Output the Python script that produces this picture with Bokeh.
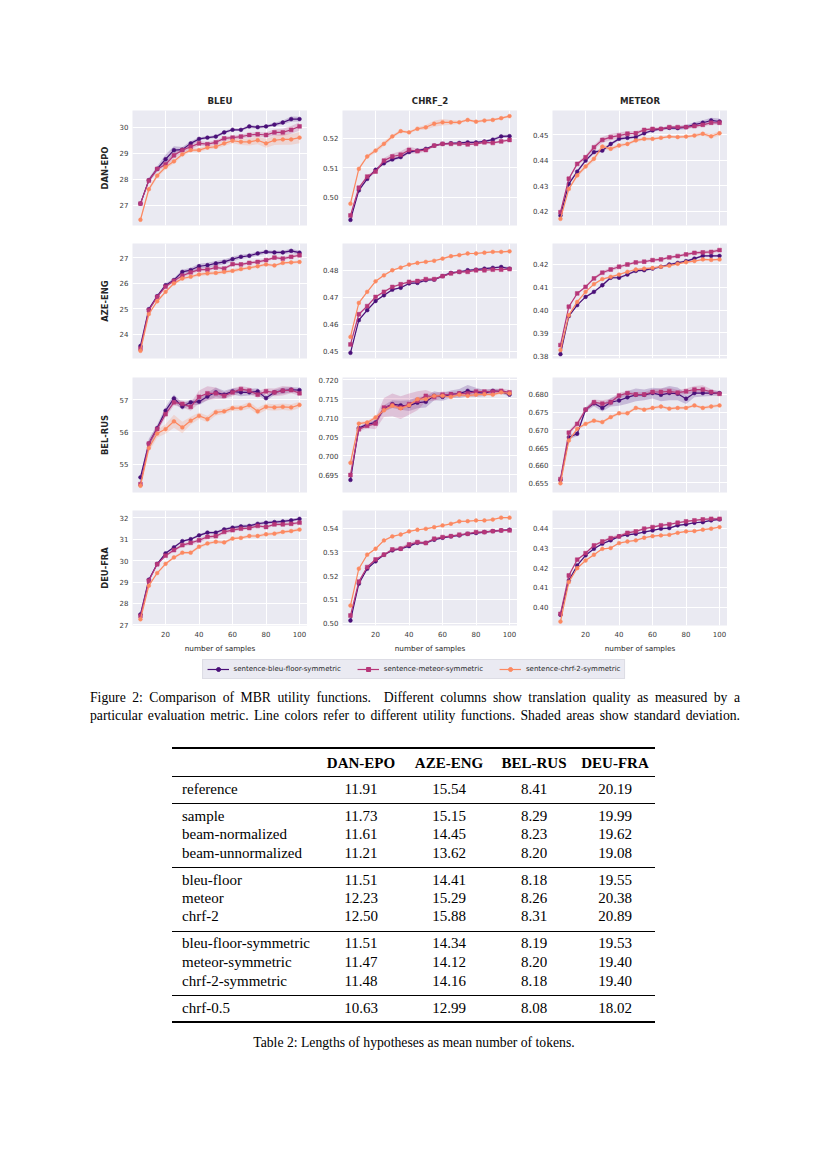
import numpy as np
from bokeh.plotting import figure
from bokeh.layouts import column, row
from bokeh.models import (ColumnDataSource, Range1d, FixedTicker, NumeralTickFormatter,
                          Legend, LegendItem, Div, Spacer)
from bokeh.embed import file_html
from bokeh.resources import INLINE

# ------------------------------------------------------------------ data
x_samples = [5, 10, 15, 20, 25, 30, 35, 40, 45, 50, 55, 60, 65, 70, 75, 80, 85, 90, 95, 100]
languages = ["DAN-EPO", "AZE-ENG", "BEL-RUS", "DEU-FRA"]
metrics = ["BLEU", "CHRF_2", "METEOR"]
utilities = ["sentence-bleu-floor-symmetric", "sentence-meteor-symmetric", "sentence-chrf-2-symmetric"]

# DAN-EPO
danepo_bleu_bf = [27.07, 27.97, 28.40, 28.77, 29.12, 29.14, 29.38, 29.55, 29.60, 29.64, 29.80, 29.90, 29.90, 30.03, 30.00, 30.03, 30.10, 30.18, 30.31, 30.31]
danepo_bleu_me = [27.07, 27.95, 28.40, 28.57, 28.92, 29.12, 29.25, 29.38, 29.35, 29.42, 29.57, 29.60, 29.64, 29.70, 29.73, 29.70, 29.80, 29.80, 29.90, 30.03]
danepo_bleu_ch = [26.45, 27.62, 28.14, 28.47, 28.69, 28.96, 29.12, 29.12, 29.22, 29.25, 29.38, 29.48, 29.44, 29.44, 29.50, 29.38, 29.50, 29.53, 29.53, 29.60]
danepo_bleu_bf_sd = [0.05, 0.08, 0.10, 0.18, 0.15, 0.10, 0.08, 0.06, 0.05, 0.05, 0.06, 0.05, 0.05, 0.06, 0.05, 0.05, 0.07, 0.08, 0.10, 0.09]
danepo_bleu_me_sd = [0.05, 0.08, 0.08, 0.10, 0.12, 0.10, 0.10, 0.09, 0.08, 0.08, 0.07, 0.07, 0.08, 0.08, 0.09, 0.10, 0.12, 0.14, 0.15, 0.16]
danepo_bleu_ch_sd = [0.06, 0.08, 0.08, 0.08, 0.08, 0.07, 0.07, 0.08, 0.08, 0.08, 0.10, 0.10, 0.12, 0.14, 0.15, 0.17, 0.18, 0.20, 0.20, 0.22]

danepo_chrf_bf = [0.4923, 0.5023, 0.5062, 0.5093, 0.5115, 0.5128, 0.5136, 0.5153, 0.5158, 0.5164, 0.5175, 0.5181, 0.5183, 0.5184, 0.5186, 0.5186, 0.5189, 0.5195, 0.5206, 0.5207]
danepo_chrf_me = [0.4938, 0.5032, 0.5070, 0.5087, 0.5124, 0.5138, 0.5144, 0.5160, 0.5156, 0.5160, 0.5175, 0.5181, 0.5181, 0.5181, 0.5179, 0.5181, 0.5186, 0.5184, 0.5189, 0.5194]
danepo_chrf_ch = [0.4978, 0.5096, 0.5138, 0.5158, 0.5181, 0.5206, 0.5224, 0.5220, 0.5232, 0.5237, 0.5249, 0.5254, 0.5254, 0.5254, 0.5262, 0.5256, 0.5260, 0.5262, 0.5268, 0.5275]
danepo_chrf_bf_sd = [0.0003, 0.0004, 0.0004, 0.0004, 0.0004, 0.0005, 0.0005, 0.0004, 0.0004, 0.0004, 0.0003, 0.0003, 0.0003, 0.0004, 0.0004, 0.0004, 0.0004, 0.0005, 0.0005, 0.0005]
danepo_chrf_me_sd = [0.0004, 0.0004, 0.0005, 0.0006, 0.0009, 0.0010, 0.0012, 0.0012, 0.0008, 0.0006, 0.0004, 0.0004, 0.0003, 0.0003, 0.0003, 0.0003, 0.0003, 0.0003, 0.0004, 0.0004]
danepo_chrf_ch_sd = [0.0004, 0.0005, 0.0005, 0.0007, 0.0008, 0.0006, 0.0005, 0.0004, 0.0005, 0.0008, 0.0010, 0.0011, 0.0008, 0.0005, 0.0004, 0.0004, 0.0004, 0.0004, 0.0004, 0.0004]

danepo_meteor_bf = [0.4183, 0.4307, 0.4355, 0.4398, 0.4431, 0.4437, 0.4463, 0.4483, 0.4487, 0.4490, 0.4505, 0.4516, 0.4522, 0.4526, 0.4525, 0.4529, 0.4539, 0.4546, 0.4555, 0.4551]
danepo_meteor_me = [0.4196, 0.4327, 0.4385, 0.4411, 0.4450, 0.4479, 0.4490, 0.4496, 0.4503, 0.4505, 0.4518, 0.4522, 0.4522, 0.4529, 0.4529, 0.4529, 0.4533, 0.4538, 0.4546, 0.4546]
danepo_meteor_ch = [0.4170, 0.4287, 0.4340, 0.4375, 0.4405, 0.4453, 0.4444, 0.4457, 0.4463, 0.4477, 0.4483, 0.4483, 0.4487, 0.4492, 0.4490, 0.4492, 0.4496, 0.4503, 0.4493, 0.4505]
danepo_meteor_bf_sd = [0.0005, 0.0005, 0.0006, 0.0006, 0.0006, 0.0006, 0.0006, 0.0005, 0.0005, 0.0005, 0.0005, 0.0005, 0.0005, 0.0006, 0.0007, 0.0008, 0.0009, 0.0010, 0.0011, 0.0012]
danepo_meteor_me_sd = [0.0005, 0.0006, 0.0006, 0.0008, 0.0009, 0.0011, 0.0012, 0.0012, 0.0010, 0.0008, 0.0006, 0.0005, 0.0005, 0.0005, 0.0005, 0.0006, 0.0007, 0.0008, 0.0008, 0.0008]
danepo_meteor_ch_sd = [0.0005, 0.0006, 0.0007, 0.0009, 0.0010, 0.0009, 0.0008, 0.0007, 0.0006, 0.0006, 0.0006, 0.0005, 0.0005, 0.0005, 0.0005, 0.0006, 0.0006, 0.0007, 0.0008, 0.0009]

# AZE-ENG
azeeng_bleu_bf = [23.55, 24.99, 25.50, 25.93, 26.13, 26.45, 26.52, 26.67, 26.71, 26.78, 26.84, 26.95, 27.04, 27.08, 27.17, 27.23, 27.21, 27.21, 27.27, 27.20]
azeeng_bleu_me = [23.45, 24.95, 25.47, 25.87, 26.10, 26.30, 26.43, 26.54, 26.54, 26.62, 26.58, 26.75, 26.74, 26.80, 26.84, 26.91, 27.01, 26.97, 27.04, 27.10]
azeeng_bleu_ch = [23.36, 24.80, 25.30, 25.67, 26.00, 26.19, 26.26, 26.35, 26.39, 26.41, 26.45, 26.49, 26.56, 26.61, 26.67, 26.74, 26.70, 26.80, 26.82, 26.84]
azeeng_bleu_bf_sd = [0.05, 0.05, 0.05, 0.06, 0.07, 0.08, 0.09, 0.10, 0.10, 0.10, 0.09, 0.09, 0.08, 0.08, 0.08, 0.07, 0.07, 0.07, 0.08, 0.08]
azeeng_bleu_me_sd = [0.05, 0.05, 0.05, 0.05, 0.06, 0.06, 0.07, 0.07, 0.07, 0.06, 0.06, 0.06, 0.06, 0.06, 0.06, 0.06, 0.06, 0.06, 0.07, 0.07]
azeeng_bleu_ch_sd = [0.05, 0.05, 0.05, 0.05, 0.06, 0.06, 0.06, 0.07, 0.07, 0.07, 0.07, 0.07, 0.07, 0.06, 0.06, 0.06, 0.05, 0.05, 0.05, 0.05]

azeeng_chrf_bf = [0.4494, 0.4615, 0.4652, 0.4686, 0.4707, 0.4728, 0.4735, 0.4751, 0.4753, 0.4763, 0.4765, 0.4778, 0.4790, 0.4794, 0.4800, 0.4802, 0.4806, 0.4809, 0.4812, 0.4806]
azeeng_chrf_me = [0.4525, 0.4637, 0.4667, 0.4701, 0.4720, 0.4738, 0.4748, 0.4757, 0.4760, 0.4767, 0.4767, 0.4778, 0.4788, 0.4794, 0.4794, 0.4800, 0.4800, 0.4802, 0.4802, 0.4804]
azeeng_chrf_ch = [0.4553, 0.4679, 0.4720, 0.4759, 0.4781, 0.4800, 0.4810, 0.4821, 0.4827, 0.4831, 0.4835, 0.4843, 0.4852, 0.4856, 0.4862, 0.4862, 0.4865, 0.4868, 0.4868, 0.4870]
azeeng_chrf_bf_sd = [0.0003, 0.0003, 0.0003, 0.0003, 0.0003, 0.0003, 0.0003, 0.0003, 0.0004, 0.0004, 0.0004, 0.0004, 0.0004, 0.0004, 0.0004, 0.0004, 0.0004, 0.0004, 0.0005, 0.0005]
azeeng_chrf_me_sd = [0.0003, 0.0003, 0.0003, 0.0003, 0.0003, 0.0004, 0.0004, 0.0004, 0.0004, 0.0003, 0.0003, 0.0003, 0.0003, 0.0003, 0.0003, 0.0003, 0.0003, 0.0003, 0.0003, 0.0003]
azeeng_chrf_ch_sd = [0.0002, 0.0003, 0.0003, 0.0003, 0.0003, 0.0003, 0.0003, 0.0003, 0.0003, 0.0003, 0.0003, 0.0003, 0.0003, 0.0003, 0.0003, 0.0003, 0.0003, 0.0003, 0.0003, 0.0003]

azeeng_meteor_bf = [0.3807, 0.3974, 0.4022, 0.4058, 0.4080, 0.4109, 0.4142, 0.4142, 0.4156, 0.4172, 0.4175, 0.4182, 0.4190, 0.4200, 0.4207, 0.4215, 0.4226, 0.4238, 0.4238, 0.4238]
azeeng_meteor_me = [0.3847, 0.4015, 0.4073, 0.4102, 0.4139, 0.4164, 0.4178, 0.4190, 0.4200, 0.4209, 0.4212, 0.4219, 0.4222, 0.4231, 0.4237, 0.4244, 0.4251, 0.4253, 0.4255, 0.4263]
azeeng_meteor_ch = [0.3825, 0.3978, 0.4036, 0.4080, 0.4114, 0.4136, 0.4146, 0.4156, 0.4168, 0.4178, 0.4182, 0.4185, 0.4190, 0.4195, 0.4203, 0.4210, 0.4215, 0.4222, 0.4220, 0.4222]
azeeng_meteor_bf_sd = [0.0004, 0.0004, 0.0004, 0.0004, 0.0005, 0.0005, 0.0005, 0.0005, 0.0005, 0.0005, 0.0005, 0.0005, 0.0005, 0.0005, 0.0005, 0.0005, 0.0005, 0.0005, 0.0005, 0.0005]
azeeng_meteor_me_sd = [0.0004, 0.0004, 0.0004, 0.0005, 0.0006, 0.0007, 0.0008, 0.0008, 0.0007, 0.0006, 0.0006, 0.0006, 0.0006, 0.0006, 0.0006, 0.0006, 0.0007, 0.0007, 0.0007, 0.0007]
azeeng_meteor_ch_sd = [0.0004, 0.0004, 0.0004, 0.0004, 0.0004, 0.0004, 0.0004, 0.0004, 0.0004, 0.0004, 0.0004, 0.0004, 0.0004, 0.0004, 0.0004, 0.0004, 0.0004, 0.0004, 0.0004, 0.0004]

# BEL-RUS
belrus_bleu_bf = [54.59, 55.64, 56.12, 56.66, 57.04, 56.79, 56.92, 56.94, 57.10, 57.23, 57.16, 57.26, 57.23, 57.23, 57.26, 57.05, 57.23, 57.28, 57.31, 57.30]
belrus_bleu_me = [54.38, 55.64, 56.09, 56.55, 56.92, 56.87, 56.78, 57.09, 57.20, 57.20, 57.12, 57.23, 57.33, 57.28, 57.16, 57.26, 57.23, 57.28, 57.30, 57.20]
belrus_bleu_ch = [54.33, 55.50, 55.95, 56.09, 56.33, 56.14, 56.35, 56.50, 56.40, 56.61, 56.64, 56.74, 56.74, 56.83, 56.64, 56.78, 56.76, 56.78, 56.76, 56.84]
belrus_bleu_bf_sd = [0.08, 0.15, 0.10, 0.12, 0.12, 0.10, 0.08, 0.10, 0.12, 0.15, 0.12, 0.10, 0.12, 0.10, 0.10, 0.08, 0.08, 0.10, 0.08, 0.08]
belrus_bleu_me_sd = [0.08, 0.10, 0.10, 0.10, 0.10, 0.10, 0.12, 0.20, 0.22, 0.18, 0.10, 0.12, 0.10, 0.10, 0.10, 0.10, 0.12, 0.15, 0.10, 0.08]
belrus_bleu_ch_sd = [0.10, 0.12, 0.12, 0.15, 0.20, 0.18, 0.12, 0.10, 0.10, 0.10, 0.08, 0.08, 0.08, 0.10, 0.10, 0.10, 0.10, 0.10, 0.10, 0.10]

belrus_chrf_bf = [0.6937, 0.7073, 0.7083, 0.7088, 0.7125, 0.7136, 0.7133, 0.7132, 0.7140, 0.7142, 0.7158, 0.7155, 0.7162, 0.7164, 0.7171, 0.7167, 0.7165, 0.7171, 0.7169, 0.7161]
belrus_chrf_me = [0.6950, 0.7070, 0.7079, 0.7085, 0.7127, 0.7134, 0.7127, 0.7136, 0.7145, 0.7158, 0.7155, 0.7161, 0.7162, 0.7164, 0.7164, 0.7169, 0.7169, 0.7169, 0.7171, 0.7167]
belrus_chrf_ch = [0.6982, 0.7085, 0.7088, 0.7101, 0.7120, 0.7132, 0.7125, 0.7133, 0.7149, 0.7149, 0.7158, 0.7158, 0.7155, 0.7161, 0.7158, 0.7161, 0.7162, 0.7161, 0.7167, 0.7164]
belrus_chrf_bf_sd = [0.0006, 0.0005, 0.0005, 0.0006, 0.0008, 0.0010, 0.0012, 0.0014, 0.0015, 0.0015, 0.0012, 0.0010, 0.0010, 0.0012, 0.0015, 0.0012, 0.0008, 0.0006, 0.0006, 0.0005]
belrus_chrf_me_sd = [0.0008, 0.0006, 0.0006, 0.0015, 0.0025, 0.0030, 0.0030, 0.0028, 0.0025, 0.0015, 0.0010, 0.0008, 0.0006, 0.0006, 0.0006, 0.0006, 0.0006, 0.0006, 0.0006, 0.0006]
belrus_chrf_ch_sd = [0.0005, 0.0004, 0.0004, 0.0005, 0.0005, 0.0005, 0.0005, 0.0005, 0.0005, 0.0005, 0.0004, 0.0004, 0.0004, 0.0004, 0.0004, 0.0004, 0.0004, 0.0004, 0.0004, 0.0004]

belrus_meteor_bf = [0.6558, 0.6679, 0.6689, 0.6757, 0.6775, 0.6762, 0.6778, 0.6783, 0.6792, 0.6799, 0.6799, 0.6804, 0.6799, 0.6804, 0.6802, 0.6788, 0.6804, 0.6804, 0.6804, 0.6804]
belrus_meteor_me = [0.6561, 0.6692, 0.6717, 0.6757, 0.6778, 0.6774, 0.6778, 0.6797, 0.6804, 0.6800, 0.6800, 0.6807, 0.6807, 0.6809, 0.6805, 0.6809, 0.6814, 0.6814, 0.6807, 0.6802]
belrus_meteor_ch = [0.6549, 0.6670, 0.6703, 0.6717, 0.6726, 0.6722, 0.6736, 0.6747, 0.6747, 0.6762, 0.6757, 0.6762, 0.6766, 0.6760, 0.6762, 0.6762, 0.6769, 0.6762, 0.6766, 0.6769]
belrus_meteor_bf_sd = [0.0005, 0.0006, 0.0006, 0.0006, 0.0008, 0.0010, 0.0012, 0.0015, 0.0018, 0.0018, 0.0015, 0.0015, 0.0018, 0.0020, 0.0018, 0.0015, 0.0012, 0.0010, 0.0008, 0.0006]
belrus_meteor_me_sd = [0.0005, 0.0006, 0.0006, 0.0006, 0.0008, 0.0010, 0.0010, 0.0008, 0.0006, 0.0006, 0.0006, 0.0008, 0.0010, 0.0010, 0.0008, 0.0008, 0.0010, 0.0012, 0.0008, 0.0006]
belrus_meteor_ch_sd = [0.0004, 0.0004, 0.0004, 0.0004, 0.0004, 0.0004, 0.0004, 0.0004, 0.0004, 0.0004, 0.0004, 0.0004, 0.0004, 0.0004, 0.0004, 0.0004, 0.0004, 0.0004, 0.0004, 0.0004]

# DEU-FRA
deufra_bleu_bf = [27.49, 29.11, 29.85, 30.34, 30.62, 30.91, 31.00, 31.18, 31.31, 31.31, 31.46, 31.54, 31.60, 31.62, 31.72, 31.77, 31.80, 31.83, 31.88, 31.95]
deufra_bleu_me = [27.42, 29.06, 29.83, 30.23, 30.49, 30.72, 30.83, 30.95, 31.11, 31.14, 31.34, 31.42, 31.49, 31.52, 31.62, 31.57, 31.69, 31.69, 31.72, 31.77]
deufra_bleu_ch = [27.26, 28.83, 29.42, 29.85, 30.15, 30.37, 30.37, 30.65, 30.80, 30.88, 30.85, 31.03, 31.06, 31.15, 31.15, 31.23, 31.26, 31.34, 31.38, 31.45]
deufra_bleu_bf_sd = [0.04, 0.04, 0.04, 0.05, 0.05, 0.05, 0.05, 0.06, 0.06, 0.06, 0.06, 0.06, 0.07, 0.07, 0.07, 0.07, 0.07, 0.07, 0.07, 0.07]
deufra_bleu_me_sd = [0.04, 0.04, 0.05, 0.06, 0.07, 0.08, 0.09, 0.10, 0.10, 0.09, 0.08, 0.08, 0.07, 0.07, 0.07, 0.07, 0.07, 0.07, 0.07, 0.07]
deufra_bleu_ch_sd = [0.04, 0.04, 0.05, 0.05, 0.06, 0.06, 0.06, 0.07, 0.07, 0.07, 0.07, 0.07, 0.07, 0.07, 0.07, 0.07, 0.07, 0.07, 0.07, 0.07]

deufra_chrf_bf = [0.5011, 0.5166, 0.5229, 0.5260, 0.5288, 0.5306, 0.5313, 0.5324, 0.5338, 0.5338, 0.5351, 0.5359, 0.5365, 0.5369, 0.5376, 0.5379, 0.5383, 0.5387, 0.5390, 0.5393]
deufra_chrf_me = [0.5032, 0.5175, 0.5236, 0.5268, 0.5288, 0.5310, 0.5313, 0.5331, 0.5341, 0.5337, 0.5355, 0.5362, 0.5366, 0.5372, 0.5376, 0.5383, 0.5383, 0.5387, 0.5390, 0.5390]
deufra_chrf_ch = [0.5074, 0.5229, 0.5288, 0.5313, 0.5348, 0.5365, 0.5373, 0.5386, 0.5393, 0.5397, 0.5404, 0.5411, 0.5418, 0.5428, 0.5429, 0.5432, 0.5432, 0.5436, 0.5444, 0.5444]
deufra_chrf_bf_sd = [0.0003, 0.0003, 0.0003, 0.0003, 0.0003, 0.0003, 0.0003, 0.0004, 0.0004, 0.0004, 0.0004, 0.0004, 0.0004, 0.0004, 0.0004, 0.0004, 0.0004, 0.0004, 0.0004, 0.0004]
deufra_chrf_me_sd = [0.0003, 0.0003, 0.0003, 0.0004, 0.0005, 0.0006, 0.0007, 0.0008, 0.0008, 0.0006, 0.0005, 0.0005, 0.0005, 0.0004, 0.0004, 0.0004, 0.0004, 0.0004, 0.0004, 0.0004]
deufra_chrf_ch_sd = [0.0003, 0.0003, 0.0003, 0.0003, 0.0003, 0.0003, 0.0003, 0.0003, 0.0003, 0.0003, 0.0003, 0.0003, 0.0003, 0.0003, 0.0003, 0.0003, 0.0003, 0.0003, 0.0003, 0.0003]

deufra_meteor_bf = [0.3961, 0.4135, 0.4211, 0.4262, 0.4295, 0.4321, 0.4338, 0.4358, 0.4366, 0.4371, 0.4380, 0.4388, 0.4397, 0.4400, 0.4414, 0.4419, 0.4427, 0.4430, 0.4439, 0.4444]
deufra_meteor_me = [0.3966, 0.4160, 0.4240, 0.4273, 0.4312, 0.4332, 0.4349, 0.4358, 0.4376, 0.4383, 0.4397, 0.4405, 0.4414, 0.4419, 0.4427, 0.4434, 0.4439, 0.4444, 0.4447, 0.4447]
deufra_meteor_ch = [0.3927, 0.4127, 0.4197, 0.4236, 0.4265, 0.4295, 0.4299, 0.4324, 0.4332, 0.4338, 0.4351, 0.4359, 0.4363, 0.4366, 0.4376, 0.4383, 0.4385, 0.4392, 0.4397, 0.4405]
deufra_meteor_bf_sd = [0.0004, 0.0004, 0.0004, 0.0004, 0.0004, 0.0004, 0.0004, 0.0004, 0.0004, 0.0004, 0.0004, 0.0004, 0.0004, 0.0004, 0.0004, 0.0004, 0.0004, 0.0004, 0.0004, 0.0004]
deufra_meteor_me_sd = [0.0004, 0.0004, 0.0004, 0.0005, 0.0006, 0.0007, 0.0008, 0.0009, 0.0008, 0.0007, 0.0006, 0.0006, 0.0005, 0.0005, 0.0005, 0.0005, 0.0005, 0.0005, 0.0005, 0.0005]
deufra_meteor_ch_sd = [0.0004, 0.0004, 0.0004, 0.0004, 0.0004, 0.0004, 0.0004, 0.0004, 0.0004, 0.0004, 0.0004, 0.0004, 0.0004, 0.0004, 0.0004, 0.0004, 0.0004, 0.0004, 0.0004, 0.0004]

# y tick labels per panel (row = language, column = metric)
yticks_danepo = [[27, 28, 29, 30], [0.50, 0.51, 0.52], [0.42, 0.43, 0.44, 0.45]]
yticks_azeeng = [[24, 25, 26, 27], [0.45, 0.46, 0.47, 0.48], [0.38, 0.39, 0.40, 0.41, 0.42]]
yticks_belrus = [[55, 56, 57], [0.690, 0.695, 0.700, 0.705, 0.710, 0.715, 0.720],
                 [0.655, 0.660, 0.665, 0.670, 0.675, 0.680]]
yticks_deufra = [[27, 28, 29, 30, 31, 32], [0.50, 0.51, 0.52, 0.53, 0.54], [0.40, 0.41, 0.42, 0.43, 0.44]]
xticks = [20, 40, 60, 80, 100]

# Table 2
table_systems = ["reference", "sample", "beam-normalized", "beam-unnormalized", "bleu-floor", "meteor",
                 "chrf-2", "bleu-floor-symmetric", "meteor-symmetric", "chrf-2-symmetric", "chrf-0.5"]
table_danepo = [11.91, 11.73, 11.61, 11.21, 11.51, 12.23, 12.50, 11.51, 11.47, 11.48, 10.63]
table_azeeng = [15.54, 15.15, 14.45, 13.62, 14.41, 15.29, 15.88, 14.34, 14.12, 14.16, 12.99]
table_belrus = [8.41, 8.29, 8.23, 8.20, 8.18, 8.26, 8.31, 8.19, 8.20, 8.18, 8.08]
table_deufra = [20.19, 19.99, 19.62, 19.08, 19.55, 20.38, 20.89, 19.53, 19.40, 19.40, 18.02]

# ------------------------------------------------------------------ assemble
panel_series = [
    [[(danepo_bleu_bf, danepo_bleu_bf_sd), (danepo_bleu_me, danepo_bleu_me_sd), (danepo_bleu_ch, danepo_bleu_ch_sd)],
     [(danepo_chrf_bf, danepo_chrf_bf_sd), (danepo_chrf_me, danepo_chrf_me_sd), (danepo_chrf_ch, danepo_chrf_ch_sd)],
     [(danepo_meteor_bf, danepo_meteor_bf_sd), (danepo_meteor_me, danepo_meteor_me_sd), (danepo_meteor_ch, danepo_meteor_ch_sd)]],
    [[(azeeng_bleu_bf, azeeng_bleu_bf_sd), (azeeng_bleu_me, azeeng_bleu_me_sd), (azeeng_bleu_ch, azeeng_bleu_ch_sd)],
     [(azeeng_chrf_bf, azeeng_chrf_bf_sd), (azeeng_chrf_me, azeeng_chrf_me_sd), (azeeng_chrf_ch, azeeng_chrf_ch_sd)],
     [(azeeng_meteor_bf, azeeng_meteor_bf_sd), (azeeng_meteor_me, azeeng_meteor_me_sd), (azeeng_meteor_ch, azeeng_meteor_ch_sd)]],
    [[(belrus_bleu_bf, belrus_bleu_bf_sd), (belrus_bleu_me, belrus_bleu_me_sd), (belrus_bleu_ch, belrus_bleu_ch_sd)],
     [(belrus_chrf_bf, belrus_chrf_bf_sd), (belrus_chrf_me, belrus_chrf_me_sd), (belrus_chrf_ch, belrus_chrf_ch_sd)],
     [(belrus_meteor_bf, belrus_meteor_bf_sd), (belrus_meteor_me, belrus_meteor_me_sd), (belrus_meteor_ch, belrus_meteor_ch_sd)]],
    [[(deufra_bleu_bf, deufra_bleu_bf_sd), (deufra_bleu_me, deufra_bleu_me_sd), (deufra_bleu_ch, deufra_bleu_ch_sd)],
     [(deufra_chrf_bf, deufra_chrf_bf_sd), (deufra_chrf_me, deufra_chrf_me_sd), (deufra_chrf_ch, deufra_chrf_ch_sd)],
     [(deufra_meteor_bf, deufra_meteor_bf_sd), (deufra_meteor_me, deufra_meteor_me_sd), (deufra_meteor_ch, deufra_meteor_ch_sd)]],
]
panel_yticks = [yticks_danepo, yticks_azeeng, yticks_belrus, yticks_deufra]

# ------------------------------------------------------------------ style / layout
COLORS = ["#4a1079", "#b73779", "#fc8961"]
MARKERS = ["circle", "square", "circle"]
BG = "#EAEAF2"
TXT = "#262626"
FONT = "DejaVu Sans"
FRAME_W, FRAME_H = 175, 115
col_left = [124, 35, 35]
row_top = [25, 9, 10, 10]
row_bot = [9, 9, 8, 32]
y_view = [
    [(26.23, 30.64), (0.4904, 0.5294), (0.4144, 0.4594)],
    [(23.06, 27.56), (0.4473, 0.4899), (0.3788, 0.4292)],
    [(54.12, 57.69), (0.6904, 0.7206), (0.6523, 0.6848)],
    [(26.97, 32.34), (0.4990, 0.5474), (0.3907, 0.4489)],
]
y_fmt = [["0", "0.00", "0.00"], ["0", "0.00", "0.00"], ["0", "0.000", "0.000"], ["0", "0.00", "0.00"]]


def make_panel(r, c):
    lo, hi = y_view[r][c]
    p = figure(width=col_left[c] + FRAME_W, height=row_top[r] + FRAME_H + row_bot[r],
               x_range=Range1d(0.25, 104.75), y_range=Range1d(lo, hi),
               output_backend="svg", toolbar_location=None,
               min_border=0, min_border_left=col_left[c], min_border_right=0,
               min_border_top=row_top[r], min_border_bottom=row_bot[r],
               background_fill_color=BG, border_fill_color="white")
    p.outline_line_color = None
    xt = FixedTicker(ticks=xticks)
    yt = FixedTicker(ticks=panel_yticks[r][c])
    p.xaxis.ticker = xt
    p.xgrid.ticker = xt
    p.yaxis.ticker = yt
    p.ygrid.ticker = yt
    p.grid.grid_line_color = "white"
    p.grid.grid_line_width = 1
    p.yaxis.formatter = NumeralTickFormatter(format=y_fmt[r][c])
    for ax in p.axis:
        ax.axis_line_color = None
        ax.major_tick_line_color = None
        ax.minor_tick_line_color = None
        ax.major_tick_out = 0
        ax.major_tick_in = 0
        ax.minor_tick_out = 0
        ax.major_label_text_font = FONT
        ax.major_label_text_font_size = "7px"
        ax.major_label_text_color = "#3a3a3a"
        ax.axis_label_text_font = FONT
        ax.axis_label_text_color = TXT
    p.yaxis.major_label_standoff = 4
    if c == 0:
        p.yaxis.axis_label = languages[r]
        p.yaxis.axis_label_text_font_style = "bold"
        p.yaxis.axis_label_text_font_size = "8.4px"
        p.yaxis.axis_label_standoff = 7
    if r == 3:
        p.xaxis.axis_label = "number of samples"
        p.xaxis.axis_label_text_font_style = "normal"
        p.xaxis.axis_label_text_font_size = "7.3px"
        p.xaxis.major_label_standoff = 5
        p.xaxis.axis_label_standoff = 4
    else:
        p.xaxis.visible = False
    if r == 0:
        p.title.text = metrics[c]
        p.title.align = "center"
        p.title.text_font = FONT
        p.title.text_font_size = "8.6px"
        p.title.text_font_style = "bold"
        p.title.text_color = TXT
        p.title.standoff = 9

    sources = []
    for k, (mean, sd) in enumerate(panel_series[r][c]):
        m = np.array(mean)
        s = np.array(sd)
        sources.append(ColumnDataSource(dict(x=x_samples, y=m, lo=m - s, hi=m + s)))
    for k, src in enumerate(sources):
        p.varea(x="x", y1="lo", y2="hi", source=src, fill_color=COLORS[k], fill_alpha=0.22)
    for k, src in enumerate(sources):
        p.line("x", "y", source=src, line_color=COLORS[k], line_width=1.2)
        p.scatter("x", "y", source=src, marker=MARKERS[k], size=3.8,
                  fill_color=COLORS[k], line_color=COLORS[k], line_width=0.5)
    return p


rows = []
for r in range(4):
    rows.append(row([make_panel(r, c) for c in range(3)], spacing=0))

# legend strip: carries the first panel's series, whose marks fall outside this strip's view
lf = figure(width=811, height=24, x_range=Range1d(-1000, -999), y_range=Range1d(-1000, -999),
            output_backend="svg", toolbar_location=None, min_border=0,
            background_fill_color="white", border_fill_color="white")
lf.axis.visible = False
lf.grid.visible = False
lf.outline_line_color = None
items = []
for k, name in enumerate(utilities):
    src = ColumnDataSource(dict(x=x_samples, y=panel_series[0][0][k][0]))
    r1 = lf.line("x", "y", source=src, line_color=COLORS[k], line_width=1.2)
    r2 = lf.scatter("x", "y", source=src, marker=MARKERS[k], size=4,
                    fill_color=COLORS[k], line_color=COLORS[k])
    items.append(LegendItem(label=name, renderers=[r1, r2]))
leg = Legend(items=items, orientation="horizontal", location="center",
             label_text_font=FONT, label_text_font_size="7px", label_text_color=TXT,
             glyph_width=22, glyph_height=10, label_standoff=5, spacing=16,
             padding=4, margin=0, border_line_color="#d0d0d8", border_line_width=0.8,
             background_fill_color=BG, background_fill_alpha=1.0,
             label_height=10)
lf.add_layout(leg)

# caption + table (HTML)
SERIF = "'Liberation Serif', 'Times New Roman', serif"


def txt(left, yc, s, width=None, align="left", size=15, weight="normal", lh=18):
    w = f"width:{width}px;" if width is not None else ""
    return (f'<div style="position:absolute;left:{left}px;top:{yc - lh / 2}px;{w}'
            f'font-family:{SERIF};font-size:{size}px;line-height:{lh}px;font-weight:{weight};'
            f'text-align:{align};color:#000;white-space:nowrap;">{s}</div>')


def rule(y, thick):
    return (f'<div style="position:absolute;left:164px;top:{y - thick / 2}px;width:483px;'
            f'height:{thick}px;background:#000;"></div>')


parts = []
cap_style = (f"position:absolute;left:82px;width:650px;font-family:{SERIF};font-size:13.7px;"
             f"line-height:18px;text-align:justify;text-align-last:justify;color:#000;")
parts.append(f'<div style="{cap_style}top:8px;">Figure 2: Comparison of MBR utility functions.&nbsp; '
             f'Different columns show translation quality as measured by a</div>')
parts.append(f'<div style="{cap_style}top:26px;">particular evaluation metric. Line colors refer to '
             f'different utility functions. Shaded areas show standard deviation.</div>')

col_centers = [353, 441, 526, 607]
parts.append(rule(67, 1.3))
for cc, name in zip(col_centers, languages):
    parts.append(txt(cc - 50, 82, name, width=100, align="center", weight="bold"))
parts.append(rule(95, 0.7))
row_centers = [108, 135, 153, 172, 199, 217, 235, 262, 281, 300, 327]
for i, name in enumerate(table_systems):
    yc = row_centers[i]
    parts.append(txt(174, yc, name))
    for cc, vals in zip(col_centers, [table_danepo, table_azeeng, table_belrus, table_deufra]):
        parts.append(txt(cc - 50, yc, f"{vals[i]:.2f}", width=100, align="center"))
for y in [122, 186, 250, 314]:
    parts.append(rule(y, 0.7))
parts.append(rule(341, 1.3))
parts.append(txt(206, 362, "Table 2: Lengths of hypotheses as mean number of tokens.", width=400,
                 align="center", size=13.7))

html = '<div style="position:relative;width:811px;height:400px;">' + "".join(parts) + "</div>"
cap = Div(text=html, width=811, height=400, margin=0)

inner = column([Spacer(width=811, height=77)] + rows + [lf, cap], spacing=0)
layout = column([Spacer(width=819, height=8), row([Spacer(width=8, height=10), inner], spacing=0)],
                spacing=0)

open("out.html", "w").write(file_html(layout, INLINE))
